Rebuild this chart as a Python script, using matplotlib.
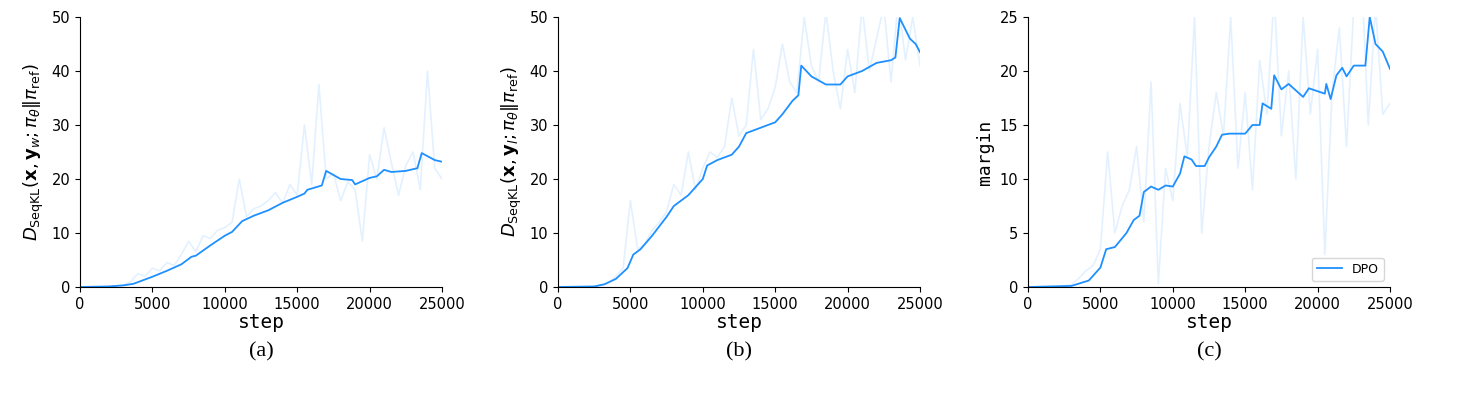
import numpy as np
import matplotlib.pyplot as plt

# smoothed curves (step, value)
a_x = [0, 2000, 3000, 3700, 5000, 6000, 7000, 7700, 8000, 9000, 10000, 10500, 11200, 12000, 13000, 14000,
       15000, 15500, 15700, 16700, 17000, 18000, 18800, 19000, 20000, 20500, 21000, 21500, 22500, 23300,
       23600, 24500, 25000]
a_y = [0, 0.1, 0.3, 0.6, 1.9, 3.0, 4.2, 5.6, 5.8, 7.7, 9.5, 10.2, 12.2, 13.2, 14.2, 15.6,
       16.7, 17.3, 18.0, 18.8, 21.5, 20.0, 19.8, 19.0, 20.2, 20.5, 21.7, 21.3, 21.5, 22.0,
       24.8, 23.5, 23.2]
b_x = [0, 2500, 3200, 4000, 4800, 5200, 5700, 6500, 7500, 8000, 9000, 10000, 10300, 11000, 12000, 12500,
       13000, 14000, 15000, 15500, 16200, 16600, 16800, 17500, 18500, 19500, 20000, 21000, 22000, 23000,
       23300, 23600, 24300, 24700, 25000]
b_y = [0, 0.1, 0.5, 1.5, 3.5, 6.0, 7.0, 9.5, 13.0, 15.0, 17.0, 20.0, 22.5, 23.5, 24.5, 26.0,
       28.5, 29.5, 30.5, 32.0, 34.5, 35.5, 41.0, 39.0, 37.5, 37.5, 39.0, 40.0, 41.5, 42.0,
       42.5, 49.8, 46.0, 45.0, 43.5]
c_x = [0, 3000, 4200, 5000, 5400, 6000, 6800, 7300, 7700, 8000, 8500, 9000, 9500, 10000, 10500, 10800,
       11300, 11600, 12200, 12500, 13000, 13400, 13900, 15000, 15500, 16000, 16200, 16800, 17000, 17500,
       18000, 18500, 19000, 19400, 20500, 20600, 20900, 21300, 21700, 22000, 22500, 23300, 23600, 24000,
       24500, 25000]
c_y = [0, 0.1, 0.6, 1.8, 3.5, 3.7, 5.0, 6.2, 6.6, 8.8, 9.3, 9.0, 9.4, 9.3, 10.5, 12.1,
       11.8, 11.2, 11.2, 12.0, 13.0, 14.1, 14.2, 14.2, 15.0, 15.0, 17.0, 16.5, 19.6, 18.3,
       18.8, 18.2, 17.6, 18.4, 17.9, 18.8, 17.4, 19.6, 20.3, 19.5, 20.5, 20.5, 25.0, 22.5,
       21.8, 20.2]

# raw (unsmoothed) values every 500 steps
raw_x = list(range(0, 25001, 500))
a_raw = [0, 0, 0, 0, 0.1, 0.2, 0.4, 1.0, 2.5, 2.0, 3.5, 3.0, 4.5, 4.0, 6.0, 8.5, 6.5, 9.5, 9.0, 10.5,
         11.0, 12.0, 20.0, 13.0, 14.5, 15.0, 16.0, 17.5, 15.5, 19.0, 17.0, 30.0, 19.0, 37.5, 20.0, 21.0,
         16.0, 19.5, 18.0, 8.5, 24.5, 20.0, 29.5, 23.0, 17.0, 22.5, 25.0, 18.0, 40.0, 22.0, 20.0]
b_raw = [0, 0, 0, 0, 0, 0.1, 0.3, 0.8, 2.0, 3.5, 16.0, 7.0, 8.0, 10.5, 12.0, 14.0, 19.0, 17.0, 25.0,
         18.0, 22.0, 25.0, 24.0, 26.0, 35.0, 28.0, 30.0, 44.0, 31.0, 33.0, 37.0, 45.0, 38.0, 36.0, 50.0,
         41.0, 38.0, 51.0, 40.0, 33.0, 44.0, 36.0, 52.0, 40.0, 46.0, 52.0, 38.0, 53.0, 42.0, 50.0, 41.0]
c_raw = [0, 0, 0, 0, 0, 0.1, 0.2, 0.8, 1.5, 2.0, 3.5, 12.5, 5.0, 7.5, 9.0, 13.0, 6.0, 19.0, 0.3, 11.0,
         8.0, 17.0, 12.0, 25.0, 5.0, 13.0, 18.0, 14.0, 25.0, 11.0, 18.0, 9.0, 21.0, 16.0, 27.0, 14.0,
         20.0, 10.0, 25.0, 16.0, 22.0, 3.0, 18.0, 24.0, 13.0, 26.0, 30.0, 15.0, 26.0, 16.0, 17.0]

panels = [
    (a_x, a_y, a_raw, 50, [0, 10, 20, 30, 40, 50],
     r'$D_{\mathrm{SeqKL}}(\mathbf{x}, \mathbf{y}_w; \pi_\theta \| \pi_{\mathrm{ref}})$', '(a)'),
    (b_x, b_y, b_raw, 50, [0, 10, 20, 30, 40, 50],
     r'$D_{\mathrm{SeqKL}}(\mathbf{x}, \mathbf{y}_l; \pi_\theta \| \pi_{\mathrm{ref}})$', '(b)'),
    (c_x, c_y, c_raw, 25, [0, 5, 10, 15, 20, 25], 'margin', '(c)'),
]

color = '#1E90FF'
fig = plt.figure(figsize=(14.72, 4.12), dpi=100)
lefts = [80, 558, 1028]
for i, (x, y, raw, ymax, yt, ylab, cap) in enumerate(panels):
    ax = fig.add_axes([lefts[i] / 1472, 1 - 287 / 412, 362 / 1472, 270 / 412])
    ax.plot(raw_x, raw, color=color, alpha=0.12, lw=1.2)
    ax.plot(x, y, color=color, lw=1.3, label='DPO')
    ax.set_xlim(0, 25000)
    ax.set_ylim(0, ymax)
    ax.set_xticks([0, 5000, 10000, 15000, 20000, 25000])
    ax.set_yticks(yt)
    ax.tick_params(labelsize=10.5)
    for s in ['top', 'right']:
        ax.spines[s].set_visible(False)
    ax.set_xlabel('step', family='DejaVu Sans Mono', fontsize=14, labelpad=1)
    if ylab == 'margin':
        ax.set_ylabel(ylab, family='DejaVu Sans Mono', fontsize=13)
    else:
        ax.set_ylabel(ylab, fontsize=13)
    ax.text(0.5, -0.205, cap, transform=ax.transAxes, ha='center', va='top',
            family='Liberation Serif', fontsize=16)
    if i == 2:
        ax.legend(loc='lower right', fontsize=9)

fig.savefig('out.png', dpi=100)
